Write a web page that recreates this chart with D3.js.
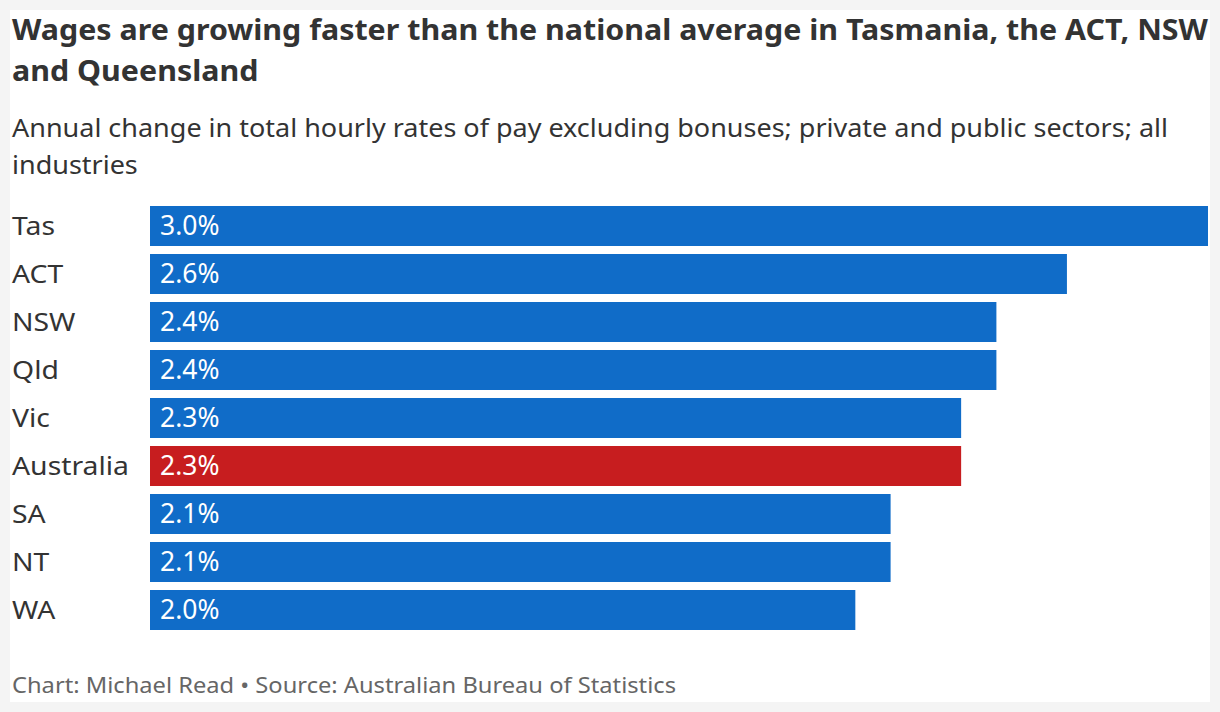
<!DOCTYPE html>
<html lang="en">
<head>
<meta charset="utf-8">
<title>Wages growth by state</title>
<script src="https://d3js.org/d3.v7.min.js"></script>
<style>
  body { margin: 0; background: #f4f4f4; }
  svg { display: block; }
  text { font-family: "Noto Sans", "Open Sans", sans-serif; fill: #333; }
  .title { font-weight: 700; }
  .label { font-size: 25.5px; }
  .value { font-size: 26.5px; fill: #fff; }
  .footer { font-size: 22px; fill: #666; }
</style>
</head>
<body>
<script>
// data
var states = ["Tas", "ACT", "NSW", "Qld", "Vic", "Australia", "SA", "NT", "WA"];
var growth = [3.0, 2.6, 2.4, 2.4, 2.3, 2.3, 2.1, 2.1, 2.0];
var highlight = "Australia";

var titleLines = ["Wages are growing faster than the national average in Tasmania, the ACT, NSW",
                  "and Queensland"];
var subLines = ["Annual change in total hourly rates of pay excluding bonuses; private and public sectors; all",
                "industries"];
var footerText = "Chart: Michael Read \u2022 Source: Australian Bureau of Statistics";

var w = 1220, h = 712;

var svg = d3.select("body").append("svg")
    .attr("width", w)
    .attr("height", h);

// white panel
svg.append("rect")
    .attr("x", 10).attr("y", 10)
    .attr("width", 1200).attr("height", 692)
    .attr("fill", "#fff");

// set a line to a given width, returns the ratio used
function fit(sel, target) {
  var len = sel.node().getComputedTextLength();
  sel.attr("textLength", target).attr("lengthAdjust", "spacingAndGlyphs");
  return target / len;
}

var t1 = svg.append("text").attr("class", "title").attr("x", 12).attr("y", 39.5)
    .style("font-size", "28px").text(titleLines[0]);
var tr = fit(t1, 1196);
var t2 = svg.append("text").attr("class", "title").attr("x", 12).attr("y", 81)
    .style("font-size", "28px").text(titleLines[1]);
fit(t2, t2.node().getComputedTextLength() * tr);

var s1 = svg.append("text").attr("x", 12).attr("y", 137)
    .style("font-size", "25px").text(subLines[0]);
var sr = fit(s1, 1156);
var s2 = svg.append("text").attr("x", 12).attr("y", 174)
    .style("font-size", "25px").text(subLines[1]);
fit(s2, s2.node().getComputedTextLength() * sr);

// scales
var x = d3.scaleLinear()
    .domain([0, d3.max(growth)])
    .range([150, 1208]);

var y = d3.scaleBand()
    .domain(states)
    .range([206, 630])
    .paddingInner(8 / 48)
    .paddingOuter(0)
    .align(0);

var rows = svg.selectAll("g.row")
    .data(states)
    .enter().append("g")
    .attr("class", "row");

rows.append("rect")
    .attr("x", x(0))
    .attr("y", function(d) { return y(d); })
    .attr("width", function(d, i) { return x(growth[i]) - x(0); })
    .attr("height", y.bandwidth())
    .attr("fill", function(d) { return d === highlight ? "#c71d1f" : "#106cc8"; });

var labels = rows.append("text")
    .attr("class", "label")
    .attr("x", 12)
    .attr("y", function(d) { return y(d) + y.bandwidth() / 2 + 8.5; })
    .text(function(d) { return d; });

// widen labels a little, using "Australia" (117px wide in the original) as the guide
var lr = 1;
labels.each(function(d) {
  if (d === "Australia") lr = 117 / this.getComputedTextLength();
});
labels.each(function() {
  fit(d3.select(this), this.getComputedTextLength() * lr);
});

rows.append("text")
    .attr("class", "value")
    .attr("x", x(0) + 10)
    .attr("y", function(d) { return y(d) + y.bandwidth() / 2 + 8.5; })
    .text(function(d, i) { return growth[i].toFixed(1) + "%"; });

var f = svg.append("text")
    .attr("class", "footer")
    .attr("x", 12)
    .attr("y", 693)
    .text(footerText);
fit(f, 664);
</script>
</body>
</html>
